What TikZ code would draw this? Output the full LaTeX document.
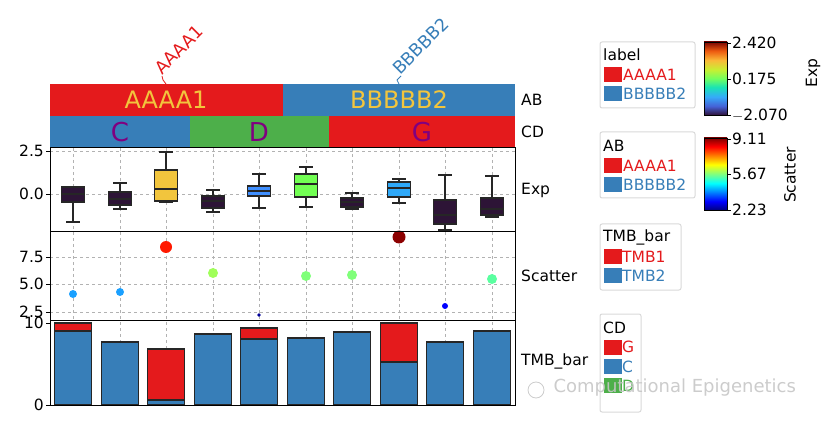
\documentclass[tikz,border=0pt]{standalone}
\usepackage{fontspec}
\setmainfont{DejaVu Sans}
\definecolor{cr}{HTML}{E41A1C}
\definecolor{cb}{HTML}{377EB8}
\definecolor{cg}{HTML}{4DAF4A}
\definecolor{dk}{HTML}{2D1436}
\definecolor{gold}{HTML}{F2C53D}
\definecolor{sky}{HTML}{1AA0FF}
\definecolor{bx5}{HTML}{3F8FFF}
\definecolor{bx6}{HTML}{72FF53}
\definecolor{bx8}{HTML}{2EA8F8}
\definecolor{s4}{HTML}{A0FF5A}
\definecolor{s6}{HTML}{80FF7A}
\definecolor{s10}{HTML}{5AFFA0}
\pgfdeclareverticalshading{turbo}{100bp}{rgb(0bp)=(0.19,0.07,0.23); rgb(25bp)=(0.19,0.07,0.23); rgb(31bp)=(0.27,0.38,0.84); rgb(37.5bp)=(0.21,0.67,0.98); rgb(44bp)=(0.10,0.89,0.71); rgb(50bp)=(0.45,1,0.37); rgb(56bp)=(0.78,0.94,0.20); rgb(62.5bp)=(0.98,0.73,0.22); rgb(69bp)=(0.93,0.35,0.06); rgb(75bp)=(0.48,0.02,0.01); rgb(100bp)=(0.48,0.02,0.01)}
\pgfdeclareverticalshading{jet}{100bp}{rgb(0bp)=(0,0,0.5); rgb(25bp)=(0,0,0.5); rgb(31bp)=(0,0,1); rgb(43.5bp)=(0,1,1); rgb(50bp)=(0.5,1,0.5); rgb(56.5bp)=(1,1,0); rgb(69bp)=(1,0,0); rgb(75bp)=(0.5,0,0); rgb(100bp)=(0.5,0,0)}
\begin{document}
\begin{tikzpicture}[x=1pt,y=-1pt,
  tick/.style={font=\fontsize{15.5}{17}\selectfont, inner sep=1pt},
  grid/.style={gray!60, dashed, line width=0.8pt},
  bx/.style={draw=black!85, line width=1.5pt},
  bar/.style={draw=black!85, line width=1.2pt},
  leg/.style={draw=black!15, rounded corners=2pt, line width=1pt, fill=white},
  big/.style={font=\fontsize{26}{28}\selectfont, text=violet},
  rot/.style={font=\fontsize{17.5}{19}\selectfont, rotate=45, anchor=south west, inner sep=0pt},
]
\useasboundingbox (0,0) rectangle (834,427);
% annotation rows
\fill[cr] (50,84) rectangle (283,116);
\fill[cb] (283,84) rectangle (515,116);
\node[font=\fontsize{24}{26}\selectfont, text=gold] (ta) at (166,100) {AAAA1};
\node[font=\fontsize{24}{26}\selectfont, text=gold] (tb) at (399,100) {BBBBB2};
\fill[cb] (50,116) rectangle (190,148);
\fill[cg] (190,116) rectangle (329,148);
\fill[cr] (329,116) rectangle (515,148);
\node[big] (tc) at (120,132) {C};
\node[big] (td) at (259,132) {D};
\node[big] (tg) at (422,132) {G};
\node[tick, anchor=west] (lab) at (520,100) {AB};
\node[tick, anchor=west] (lcd) at (520,132) {CD};
% rotated top labels
\coordinate (pa) at (166,84); \coordinate (pa2) at (162,76);
\draw[cr, line width=0.8pt] (pa) -- (163,80) -- (pa2);
\node[rot, text=cr] (ra) at (162,76) {AAAA1};
\coordinate (pb) at (399,84); \coordinate (pb2) at (401,76);
\draw[cb, line width=0.8pt] (pb) -- (397,80) -- (pb2);
\node[rot, text=cb] (rb) at (400,76) {BBBBB2};
% grids
\foreach \x in {73,120,166,213,259,306,352,399,445,492}{
  \draw[grid] (\x,148) -- (\x,405);
}
\foreach \y in {151,194,257,284,312}{\draw[grid] (50,\y) -- (515,\y);}
% EXP boxes
\foreach \x/\t/\b/\m/\h/\l/\c in {73/187/202/194/187/222/dk,120/192/205/199/183/209/dk,166/170/201/189/152/202/gold,213/196/208/201/190/212/dk,259/186/196/191/174/208/bx5,306/174/197/184/167/207/bx6,352/198/207/202/193/209/dk,399/182/197/188/179/203/bx8,445/200/224/215/175/230/dk,492/198/215/209/176/217/dk}{
  \draw[bx] (\x,\t) -- (\x,\h) (\x-7,\h) -- (\x+7,\h);
  \draw[bx] (\x,\b) -- (\x,\l) (\x-7,\l) -- (\x+7,\l);
  \draw[bx, fill=\c] (\x-11.5,\t) rectangle (\x+11.5,\b);
  \draw[bx] (\x-11.5,\m) -- (\x+11.5,\m);
}
% Scatter
\foreach \x/\y/\r/\c in {73/294/4/sky,120/292/4/sky,166/247/6/{red!90!yellow},213/273/5/s4,259/315/1.8/{blue!60!black},306/276/5/s6,352/275/5/s6,399/237/6.5/{red!55!black},445/306/3/blue,492/279/5/s10}{
  \fill[\c] (\x,\y) circle (\r);
}
% Bars
\foreach \x/\bt/\rt in {73/331/323,120/342/342,166/400/349,213/334/334,259/339/328,306/338/338,352/332/332,399/362/323,445/342/342,492/331/331}{
  \draw[bar, fill=cr] (\x-18.5,\rt) rectangle (\x+18.5,\bt);
  \draw[bar, fill=cb] (\x-18.5,\bt) rectangle (\x+18.5,405);
}
% frames
\draw[line width=1pt] (50,148) rectangle (515,232);
\draw[line width=1pt] (50,232) rectangle (515,320);
\draw[line width=1pt] (50,405) -- (50,320) -- (515,320) -- (515,405) -- cycle;
% y ticks
\foreach \y/\t in {151/2.5,194/0.0,257/7.5,284/5.0,312/2.5,323/10,405/0}{
  \draw[line width=0.8pt] (46,\y) -- (50,\y);
  \node[tick, anchor=east] at (45,\y) {\t};
}
\node[tick, anchor=west] (lexp) at (520,190) {Exp};
\node[tick, anchor=west] (lsc) at (520,276) {Scatter};
\node[tick, anchor=west] (ltmb) at (520,361) {TMB\_bar};
% legends
\begin{scope}
\clip (0,0) rectangle (834,427);
\draw[leg] (600,42) rectangle (695,108);
\node[tick, anchor=west] (g1) at (602,55) {label};
\fill[cr] (604,67) rectangle (622,82); \node[tick, anchor=west, text=cr, inner sep=0pt] (g1a) at (623,75) {AAAA1};
\fill[cb] (604,86) rectangle (622,101); \node[tick, anchor=west, text=cb, inner sep=0pt] (g1b) at (623,94) {BBBBB2};
\draw[leg] (600,132) rectangle (695,198);
\node[tick, anchor=west] (g2) at (602,146) {AB};
\fill[cr] (604,158) rectangle (622,173); \node[tick, anchor=west, text=cr, inner sep=0pt] (g2a) at (623,166) {AAAA1};
\fill[cb] (604,177) rectangle (622,192); \node[tick, anchor=west, text=cb, inner sep=0pt] (g2b) at (623,185) {BBBBB2};
\draw[leg] (600,224) rectangle (681,290);
\node[tick, anchor=west] (g3) at (602,237) {TMB\_bar};
\fill[cr] (604,249) rectangle (622,264); \node[tick, anchor=west, text=cr, inner sep=0pt] (g3a) at (622,257) {TMB1};
\fill[cb] (604,268) rectangle (622,283); \node[tick, anchor=west, text=cb, inner sep=0pt] (g3b) at (622,276) {TMB2};
\draw[leg] (600,314) rectangle (641,412);
\node[tick, anchor=west] (g4) at (602,328) {CD};
\fill[cr] (604,340) rectangle (622,355); \node[tick, anchor=west, text=cr, inner sep=0pt] (g4a) at (622,347) {G};
\fill[cb] (604,359) rectangle (622,374); \node[tick, anchor=west, text=cb, inner sep=0pt] (g4b) at (622,367) {C};
\fill[cg] (604,378) rectangle (622,393); \node[tick, anchor=west, text=cg, inner sep=0pt] (g4c) at (622,386) {D};
\end{scope}
% colorbars
\shade[shading=turbo] (704,42) rectangle (727,115);
\draw[line width=0.8pt] (704,42) rectangle (727,115);
\foreach \y/\t in {43/2.420,79/0.175,115/{$-$2.070}}{
  \draw[line width=0.8pt] (727,\y) -- (731,\y);
  \node[tick, anchor=west] at (731,\y) {\t};
}
\node[tick, rotate=90] (cl1) at (813,73) {Exp};
\shade[shading=jet] (704,138) rectangle (727,210);
\draw[line width=0.8pt] (704,138) rectangle (727,210);
\foreach \y/\t in {139/9.11,174/5.67,210/2.23}{
  \draw[line width=0.8pt] (727,\y) -- (731,\y);
  \node[tick, anchor=west] at (731,\y) {\t};
}
\node[tick, rotate=90] (cl2) at (790,175) {Scatter};
% watermark
\node[font=\fontsize{18}{20}\selectfont, text=gray!45, opacity=0.9, anchor=west] (wm) at (550,388) {Computational Epigenetics};
\draw[gray!40, line width=0.8pt] (536,390) circle (8);
\end{tikzpicture}
\end{document}
